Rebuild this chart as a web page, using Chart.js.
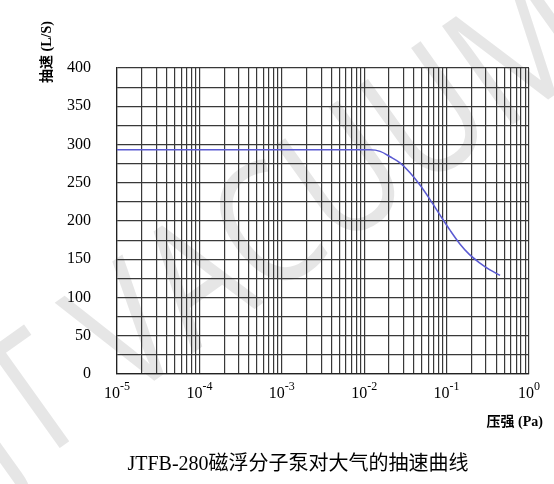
<!DOCTYPE html>
<html lang="zh">
<head>
<meta charset="UTF-8">
<title>JTFB-280 抽速曲线</title>
<script src="https://cdn.jsdelivr.net/npm/chart.js"></script>
<style>
  html, body { margin: 0; padding: 0; background: #fff; }
  #wrap { width: 554px; height: 484px; }
</style>
</head>
<body>
<div id="wrap"><canvas id="speed-chart" width="554" height="484"></canvas></div>
<script>
// pressure (Pa) vs pumping speed (L/S)
const pressure = [1e-5, 1e-4, 1e-3, 5e-3, 0.0118, 0.0156, 0.0206, 0.0272, 0.036, 0.0475, 0.063, 0.083, 0.11, 0.145, 0.19, 0.254, 0.336, 0.445];
const speed = [293, 293, 293, 293, 293, 291, 284, 276, 263, 247, 228, 208, 188, 170, 156, 145, 136, 129];

const decades = [-5, -4, -3, -2, -1, 0];
const speedTicks = [0, 50, 100, 150, 200, 250, 300, 350, 400];

const chartTitle = 'JTFB-280磁浮分子泵对大气的抽速曲线';
const xTitle = '压强 (Pa)';
const yTitle = '抽速 (L/S)';
const watermark = 'JT VACUUM';

const serif = '"Liberation Serif", "Noto Sans CJK SC", serif';
const gridColor = '#383838';

// every 1..9 x 10^k between the decades
const xTicks = [];
decades.forEach((e, i) => {
    if (i === decades.length - 1) { xTicks.push(Math.pow(10, e)); return; }
    for (let m = 1; m <= 9; m++) xTicks.push(m * Math.pow(10, e));
});

const decorations = {
    id: 'decorations',
    beforeDraw(chart) {
        const ctx = chart.ctx;
        ctx.save();
        ctx.fillStyle = '#fff';
        ctx.fillRect(0, 0, chart.width, chart.height);
        // faint watermark behind the grid
        ctx.translate(275, 235);
        ctx.rotate(-0.62);
        ctx.scale(0.82, 1);
        ctx.font = '400 170px "Open Sans", "DejaVu Sans", sans-serif';
        ctx.fillStyle = '#e6e6e6';
        ctx.textAlign = 'center';
        ctx.textBaseline = 'middle';
        ctx.fillText(watermark, 0, 0);
        ctx.restore();
    },
    afterDraw(chart) {
        const ctx = chart.ctx;
        const x = chart.scales.x;
        ctx.save();
        ctx.fillStyle = '#000';
        ctx.textBaseline = 'alphabetic';
        ctx.textAlign = 'left';

        // 10^n tick labels
        decades.forEach(e => {
            const px = x.getPixelForValue(Math.pow(10, e));
            ctx.font = '16px ' + serif;
            const wBase = ctx.measureText('10').width;
            ctx.font = '12px ' + serif;
            const sup = String(e);
            const wSup = ctx.measureText(sup).width;
            const left = px - (wBase + wSup) / 2;
            ctx.font = '16px ' + serif;
            ctx.fillText('10', left, 398);
            ctx.font = '12px ' + serif;
            ctx.fillText(sup, left + wBase, 390);
        });

        // axis titles
        ctx.font = 'bold 14px ' + serif;
        ctx.textAlign = 'right';
        ctx.fillText(xTitle, 543, 426);

        ctx.save();
        ctx.translate(51, 83);
        ctx.rotate(-Math.PI / 2);
        ctx.textAlign = 'left';
        ctx.font = 'bold 14px ' + serif;
        ctx.fillText(yTitle, 0, 0);
        ctx.restore();

        // chart title
        ctx.font = '20px ' + serif;
        ctx.textAlign = 'center';
        ctx.fillText(chartTitle, 298, 470);
        ctx.restore();
    }
};

new Chart(document.getElementById('speed-chart'), {
    type: 'line',
    data: {
        datasets: [{
            data: pressure.map((p, i) => ({ x: p, y: speed[i] })),
            borderColor: '#5a5ad2',
            borderWidth: 1.5,
            pointRadius: 0,
            fill: false,
            cubicInterpolationMode: 'monotone'
        }]
    },
    options: {
        responsive: false,
        animation: false,
        events: [],
        layout: { padding: { left: 0, top: 68, right: 25, bottom: 0 } },
        plugins: {
            legend: { display: false },
            title: { display: false },
            tooltip: { enabled: false }
        },
        scales: {
            x: {
                type: 'logarithmic',
                min: 1e-5,
                max: 1,
                afterBuildTicks: scale => { scale.ticks = xTicks.map(v => ({ value: v })); },
                afterFit: scale => { scale.height = 110; },
                ticks: { display: false },
                grid: { color: gridColor, lineWidth: 1.2, drawTicks: false },
                border: { color: '#222', width: 1.2 }
            },
            y: {
                min: 0,
                max: 400,
                afterFit: scale => { scale.width = 117; },
                ticks: {
                    stepSize: 25,
                    autoSkip: false,
                    padding: 26,
                    color: '#000',
                    font: { family: serif, size: 16 },
                    callback: v => speedTicks.includes(v) ? v : ''
                },
                grid: { color: gridColor, lineWidth: 1.2, drawTicks: false },
                border: { color: '#222', width: 1.2 }
            }
        }
    },
    plugins: [decorations]
});
</script>
</body>
</html>
